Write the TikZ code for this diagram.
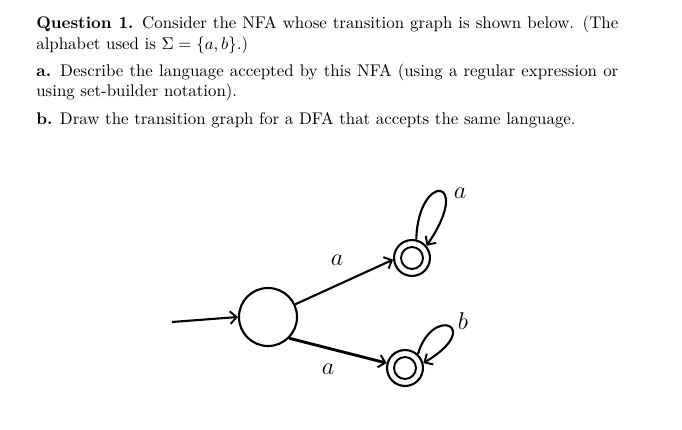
\documentclass[tikz,border=0pt]{standalone}
\usepackage{fontspec}
\usetikzlibrary{arrows.meta}
\begin{document}
\begin{tikzpicture}[x=0.5928pt,y=-0.5928pt,
  txt/.style={anchor=base west, inner sep=0pt, font=\normalsize},
  state/.style={circle, draw, line width=1.25pt, inner sep=0pt, minimum size=34.4pt},
  accout/.style={circle, draw, line width=1.25pt, inner sep=0pt, minimum size=21.3pt},
  accin/.style={circle, draw, line width=1.15pt, inner sep=0pt, minimum size=13pt},
  trans/.style={line width=1.25pt, -{Straight Barb[length=3.8pt,width=7.5pt,line width=1.15pt]}},
  lbl/.style={inner sep=0pt, font=\Large}]
\useasboundingbox (0,0) rectangle (682,430);

\node[txt] (p1) at (36,29) {\parbox[t]{345pt}{\textbf{Question 1.} Consider the NFA whose transition graph is shown below. (The\linebreak alphabet used is $\Sigma=\{a,b\}$.)}};
\node[txt] (p2) at (36,76.7) {\parbox[t]{345pt}{\textbf{a.} Describe the language accepted by this NFA (using a regular expression or\linebreak using set-builder notation).}};
\node[txt] (p3) at (36,125) {\parbox[t]{345pt}{\textbf{b.} Draw the transition graph for a DFA that accepts the same language.}};

\node[state] (s) at (268,317) {};
\node[accout] (u) at (412,258) {};
\node[accin] (ui) at (u) {};
\node[accout] (l) at (405,368) {};
\node[accin] (li) at (l) {};

\coordinate (init) at (172,322);
\draw[trans] (init) -- (s.180);
\draw[trans] (s.25) -- (u.185);
\draw[trans, line width=1.7pt] (s.-45) -- (l.165);
\draw[trans] (u.77) .. controls (418,172) and (474,176) .. (u.40);
\draw[trans] (l.47) .. controls (432,305) and (485,326) .. (l.15);

\node[lbl] (la1) at (337,260) {$a$};
\node[lbl] (la2) at (328,369) {$a$};
\node[lbl] (la3) at (460,193) {$a$};
\node[lbl] (lb) at (463,321) {$b$};
\end{tikzpicture}
\end{document}
